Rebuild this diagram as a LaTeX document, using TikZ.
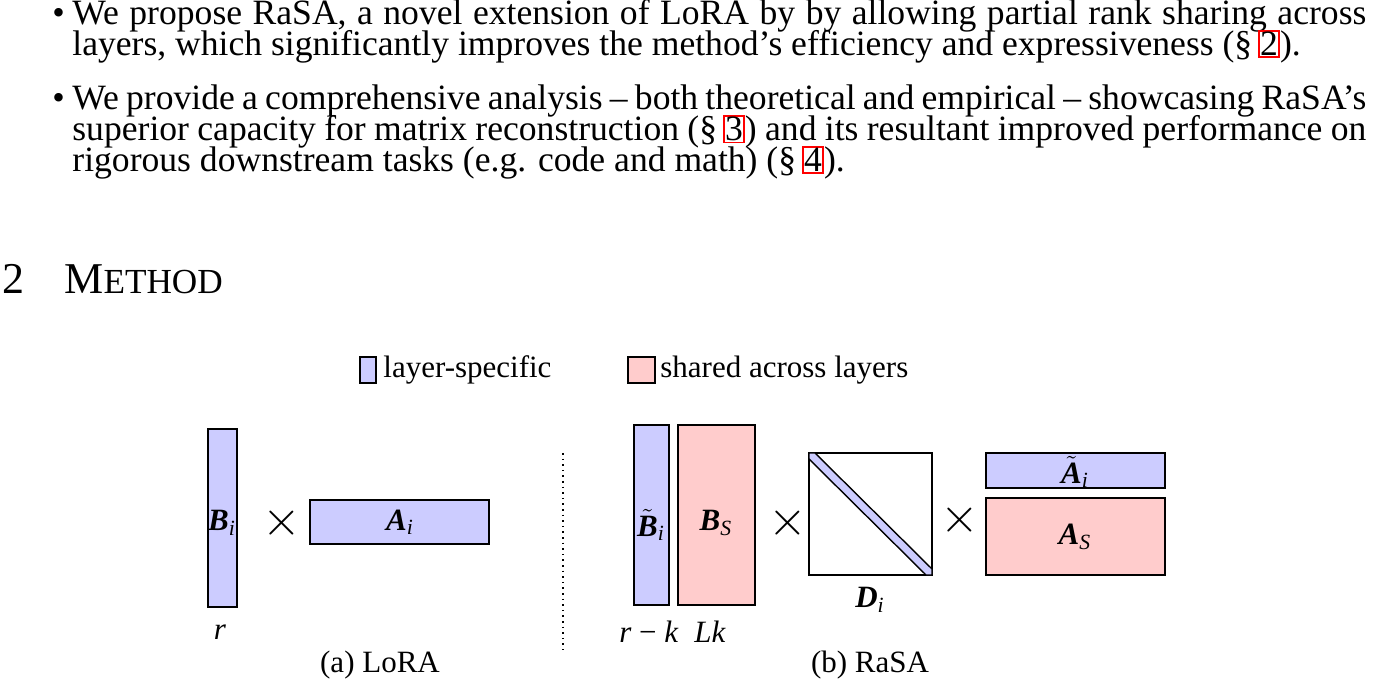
\documentclass[tikz,border=0pt]{standalone}
\usepackage{fontspec}
\setmainfont{Liberation Serif}
\usetikzlibrary{positioning}
\definecolor{specblue}{RGB}{204,204,255}
\definecolor{sharedpink}{RGB}{255,204,204}
\newcommand{\mvar}[2]{\textbf{\textit{#1}}\textsubscript{\textit{#2}}}
\newcommand{\tvar}[2]{$\tilde{\mbox{\textbf{\textit{#1}}}}$\textsubscript{\textit{#2}}}
\newcommand{\refbox}[1]{\tikz[baseline=(rb.base)]\node[draw=red,line width=0.9pt,inner sep=0.6pt](rb){#1};}
\begin{document}
\begin{tikzpicture}[
    x=0.5pt, y=-0.5pt,
    txt/.style={anchor=base west, inner sep=0pt, font=\fontsize{17.8}{20}\selectfont},
    lbl/.style={inner sep=0pt, font=\fontsize{15.5}{18}\selectfont},
    spec/.style={draw, fill=specblue, line width=0.8pt},
    shared/.style={draw, fill=sharedpink, line width=0.8pt},
    times/.style={font=\fontsize{40}{40}\selectfont, inner sep=0pt}]

    \useasboundingbox (0,0) rectangle (1376,689);

    % bullet text
    \node[txt] (b1) at (52,25) {\textbullet};
    \node[txt] (l1) at (72,25) {\makebox[647pt][s]{We propose RaSA, a novel extension of LoRA by by allowing partial rank sharing across}};
    \node[txt] (l2) at (72,56) {layers, which significantly improves the method’s efficiency and expressiveness (§\,\refbox{2}).};
    \node[txt] (b2) at (52,110) {\textbullet};
    \node[txt] (l3) at (72,110) {\makebox[647pt][s]{We provide a comprehensive analysis – both theoretical and empirical – showcasing RaSA’s}};
    \node[txt] (l4) at (72,141) {\makebox[647pt][s]{superior capacity for matrix reconstruction (§\,\refbox{3}) and its resultant improved performance on}};
    \node[txt] (l5) at (72,172) {rigorous downstream tasks (e.g. code and math) (§\,\refbox{4}).};

    % section heading
    \node[txt, font=\fontsize{22}{24}\selectfont] (secnum) at (2,294) {2};
    \node[txt, font=\fontsize{22}{24}\selectfont] (sectitle) at (64,294) {M\fontsize{17.6}{20}\selectfont ETHOD};

    % legend
    \draw[spec] (360,357) rectangle (376,383);
    \node[lbl, anchor=west] (legspec) at (383,370) {layer-specific};
    \draw[shared] (628,357) rectangle (655,383);
    \node[lbl, anchor=west] (legshared) at (660,370) {shared across layers};

    % divider
    \draw[dotted, line width=0.8pt] (563,453) -- (563,650);

    % (a) LoRA
    \draw[spec] (208,429) rectangle (237,607);
    \node[lbl] (Bi) at (222,523) {\mvar{B}{i}};
    \node[times] (x1) at (282,523) {$\times$};
    \draw[spec] (310,500) rectangle (489,544);
    \node[lbl] (Ai) at (400,522) {\mvar{A}{i}};
    \node[lbl] (r) at (220,632) {\textit{r}};
    \node[lbl] (capa) at (380,665) {(a) LoRA};

    % (b) RaSA
    \draw[spec] (634,425) rectangle (669,605);
    \node[lbl] (Bt) at (651,525) {\tvar{B}{i}};
    \draw[shared] (678,425) rectangle (755,605);
    \node[lbl] (Bs) at (716,523) {\mvar{B}{S}};
    \node[times] (x2) at (788,523) {$\times$};
    \draw[line width=0.8pt] (809,453) rectangle (932,575);
    \draw[spec, line width=0.7pt] (809,453) -- (815,453) -- (932,569) -- (932,575) -- (926,575) -- (809,459) -- cycle;
    \node[lbl] (Di) at (870,600) {\mvar{D}{i}};
    \node[times] (x3) at (960,520) {$\times$};
    \draw[spec] (986,453) rectangle (1165,488);
    \node[lbl] (At) at (1075,472) {\tvar{A}{i}};
    \draw[shared] (986,498) rectangle (1165,575);
    \node[lbl] (As) at (1075,537) {\mvar{A}{S}};
    \node[lbl] (rk) at (649,632) {\textit{r} − \textit{k}};
    \node[lbl] (Lk) at (710,632) {\textit{Lk}};
    \node[lbl] (capb) at (870,665) {(b) RaSA};
\end{tikzpicture}
\end{document}
